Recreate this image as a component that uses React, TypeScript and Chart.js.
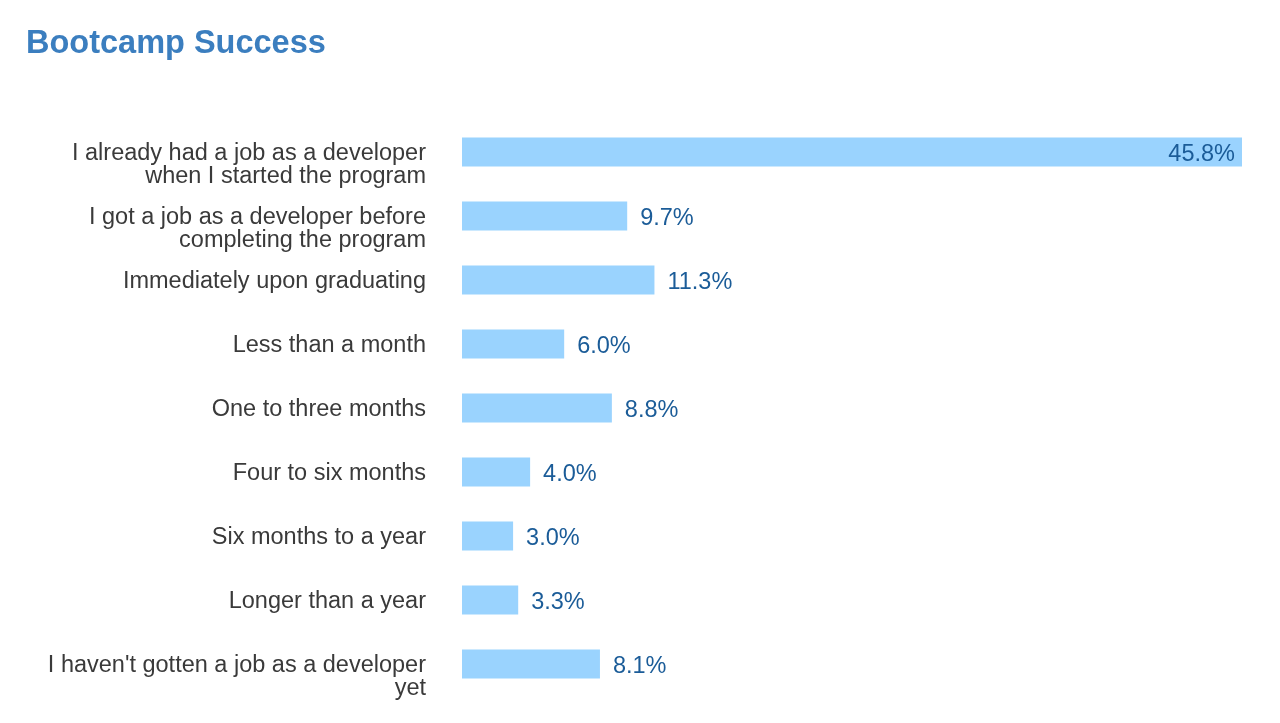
import React, { useEffect, useRef } from "react";
import { Chart, registerables } from "chart.js";

Chart.register(...registerables);

const titleText = "Bootcamp Success";
const categories: string[][] = [
  ["I already had a job as a developer", "when I started the program"],
  ["I got a job as a developer before", "completing the program"],
  ["Immediately upon graduating"],
  ["Less than a month"],
  ["One to three months"],
  ["Four to six months"],
  ["Six months to a year"],
  ["Longer than a year"],
  ["I haven't gotten a job as a developer", "yet"],
];
const shares = [45.8, 9.7, 11.3, 6.0, 8.8, 4.0, 3.0, 3.3, 8.1];

const FONT = "'Liberation Sans', Arial, Helvetica, sans-serif";
const BAR_COLOR = "#9AD3FE";
const VALUE_COLOR = "#1B5C98";
const LABEL_COLOR = "#3A3A3A";
const TITLE_COLOR = "#3B7EBF";

// Title, wrapped category labels and value labels drawn onto the canvas
const annotate = {
  id: "annotate",
  afterDatasetsDraw(chart: any) {
    const { ctx, chartArea } = chart;
    const yScale = chart.scales.y;
    const meta = chart.getDatasetMeta(0);
    ctx.save();

    ctx.fillStyle = TITLE_COLOR;
    ctx.font = `bold 32.5px ${FONT}`;
    ctx.textAlign = "left";
    ctx.textBaseline = "middle";
    ctx.fillText(titleText, 26, 44);

    ctx.font = `23.5px ${FONT}`;
    ctx.fillStyle = LABEL_COLOR;
    ctx.textAlign = "right";
    categories.forEach((lines, i) => {
      const cy = yScale.getPixelForValue(i);
      lines.forEach((line, j) => {
        ctx.fillText(line, chartArea.left - 36, cy + 1.5 + j * 23);
      });
    });

    ctx.fillStyle = VALUE_COLOR;
    meta.data.forEach((bar: any, i: number) => {
      const text = shares[i].toFixed(1) + "%";
      const w = ctx.measureText(text).width;
      if (bar.x + 13 + w > chart.width - 4) {
        ctx.textAlign = "right";
        ctx.fillText(text, bar.x - 7, bar.y + 2.5);
      } else {
        ctx.textAlign = "left";
        ctx.fillText(text, bar.x + 13, bar.y + 2.5);
      }
    });
    ctx.restore();
  },
};

export default function App() {
  const canvasRef = useRef<HTMLCanvasElement | null>(null);

  useEffect(() => {
    if (!canvasRef.current) return;
    const chart = new Chart(canvasRef.current, {
      type: "bar",
      data: {
        labels: categories.map((l) => l.join(" ")),
        datasets: [
          {
            data: shares,
            backgroundColor: BAR_COLOR,
            borderWidth: 0,
            barPercentage: 0.9,
            categoryPercentage: 0.5,
          },
        ],
      },
      options: {
        indexAxis: "y",
        animation: false,
        responsive: false,
        layout: { padding: { left: 462, right: 38, top: 120, bottom: 27 } },
        scales: {
          x: { display: false, min: 0, max: 45.8 },
          y: { display: false },
        },
        plugins: {
          legend: { display: false },
          tooltip: { enabled: false },
          title: { display: false },
        },
      },
      plugins: [annotate],
    });
    return () => chart.destroy();
  }, []);

  return (
    <div style={{ position: "absolute", left: 0, top: 0, width: 1280, height: 723, background: "#fff" }}>
      <canvas ref={canvasRef} width={1280} height={723} style={{ display: "block" }} />
    </div>
  );
}
